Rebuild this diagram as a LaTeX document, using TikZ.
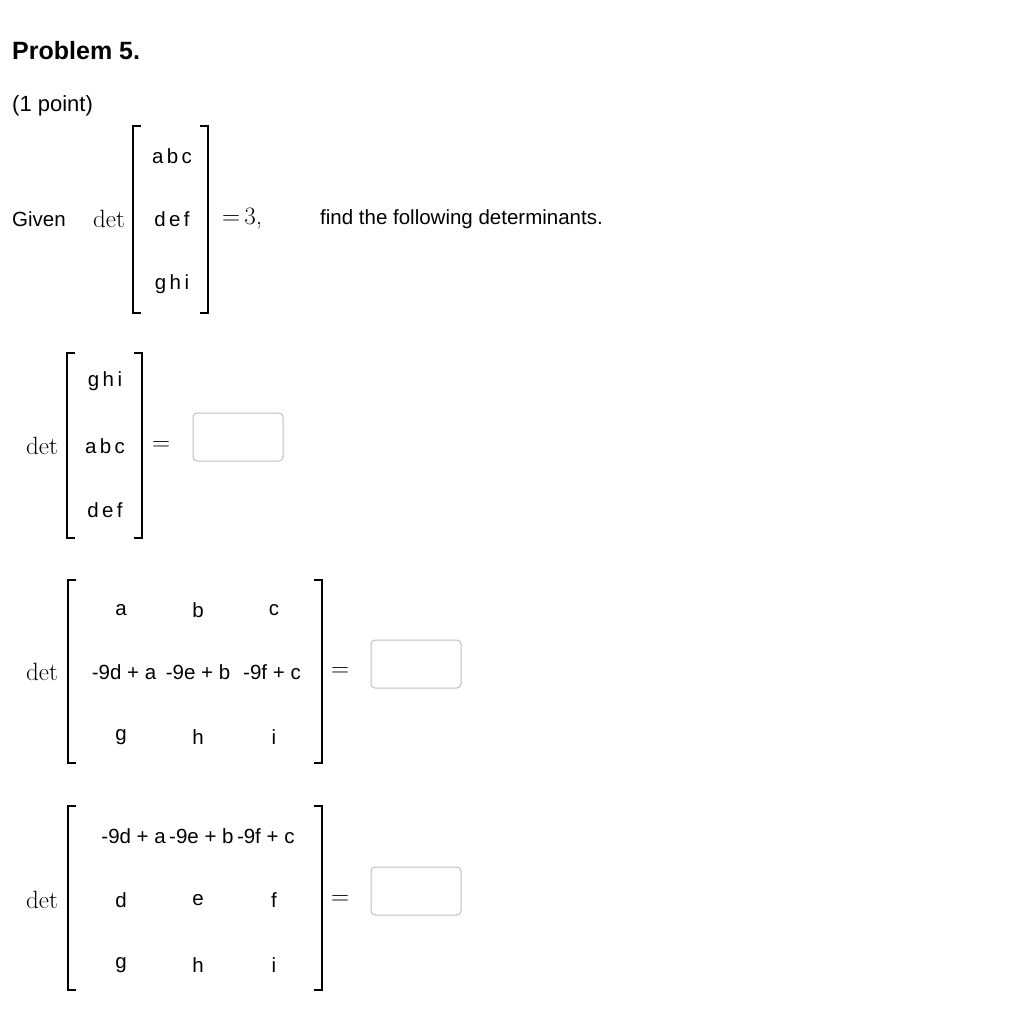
\documentclass[tikz,border=0pt]{standalone}
\usepackage{fontspec}
\setmainfont{Liberation Sans}
\newfontfamily\lmr{Latin Modern Roman}
\begin{document}
\begin{tikzpicture}[x=1pt,y=-1pt,
  txt/.style={inner sep=0pt,font=\fontsize{20.5}{24}\selectfont},
  mtx/.style={inner sep=0pt,font=\fontsize{20.5}{24}\selectfont},
  mth/.style={inner sep=0pt,font=\lmr\fontsize{25}{28}\selectfont},
  brk/.style={line width=1.6pt},
  ansbox/.style={draw=black!25,line width=1pt,rounded corners=4pt,fill=white}]
\useasboundingbox (0,0) rectangle (1024,1021);
\node[txt,anchor=west,font=\bfseries\fontsize{25}{29}\selectfont] (title) at (12,51) {Problem 5.};
\node[txt,anchor=west,font=\fontsize{22}{26}\selectfont] (pts) at (12,106) {(1 point)};
% given
\node[txt,anchor=west] (given) at (12,219) {Given};
\node[mth,anchor=west] (d0) at (93,219) {det};
\draw[brk] (141,126) -- (133,126) -- (133,313) -- (141,313);
\draw[brk] (200,126) -- (208,126) -- (208,313) -- (200,313);
\node[mtx] (m0a) at (172,156) {a\,b\,c};
\node[mtx] (m0b) at (172,219) {d\,e\,f};
\node[mtx] (m0c) at (172,284) {g\,h\,i};
\node[mth,anchor=west] (eq0) at (222,219) {=\,3,};
\node[txt,anchor=west] (find) at (320,219) {find the following determinants.};
% matrix 2
\node[mth,anchor=west] (d1) at (26,446) {det};
\draw[brk] (75,353) -- (67,353) -- (67,538) -- (75,538);
\draw[brk] (134,353) -- (142,353) -- (142,538) -- (134,538);
\node[mtx] (m1a) at (105,381) {g\,h\,i};
\node[mtx] (m1b) at (105,446) {a\,b\,c};
\node[mtx] (m1c) at (105,510) {d\,e\,f};
\node[mth] (eq1) at (161,446) {=};
\node[ansbox,minimum width=90pt,minimum height=48pt] (a1) at (238,437) {};
% matrix 3
\node[mth,anchor=west] (d2) at (26,672) {det};
\draw[brk] (76,580) -- (68,580) -- (68,763) -- (76,763);
\draw[brk] (314,580) -- (322,580) -- (322,763) -- (314,763);
\node[mtx] at (121,610) {a};
\node[mtx] at (198,610) {b};
\node[mtx] at (274,610) {c};
\node[mtx] at (124,672) {-9d + a};
\node[mtx] at (198,672) {-9e + b};
\node[mtx] at (272,672) {-9f + c};
\node[mtx] at (121,737) {g};
\node[mtx] at (198,737) {h};
\node[mtx] at (274,737) {i};
\node[mth] (eq2) at (340,672) {=};
\node[ansbox,minimum width=90pt,minimum height=48pt] (a2) at (416,664) {};
% matrix 4
\node[mth,anchor=west] (d3) at (26,900) {det};
\draw[brk] (76,806) -- (68,806) -- (68,990) -- (76,990);
\draw[brk] (314,806) -- (322,806) -- (322,990) -- (314,990);
\node[mtx] at (198,836) {-9d + a\,-9e + b\,-9f + c};
\node[mtx] at (121,900) {d};
\node[mtx] at (198,900) {e};
\node[mtx] at (274,900) {f};
\node[mtx] at (121,965) {g};
\node[mtx] at (198,965) {h};
\node[mtx] at (274,965) {i};
\node[mth] (eq3) at (340,900) {=};
\node[ansbox,minimum width=90pt,minimum height=48pt] (a3) at (416,891) {};
\end{tikzpicture}
\end{document}
